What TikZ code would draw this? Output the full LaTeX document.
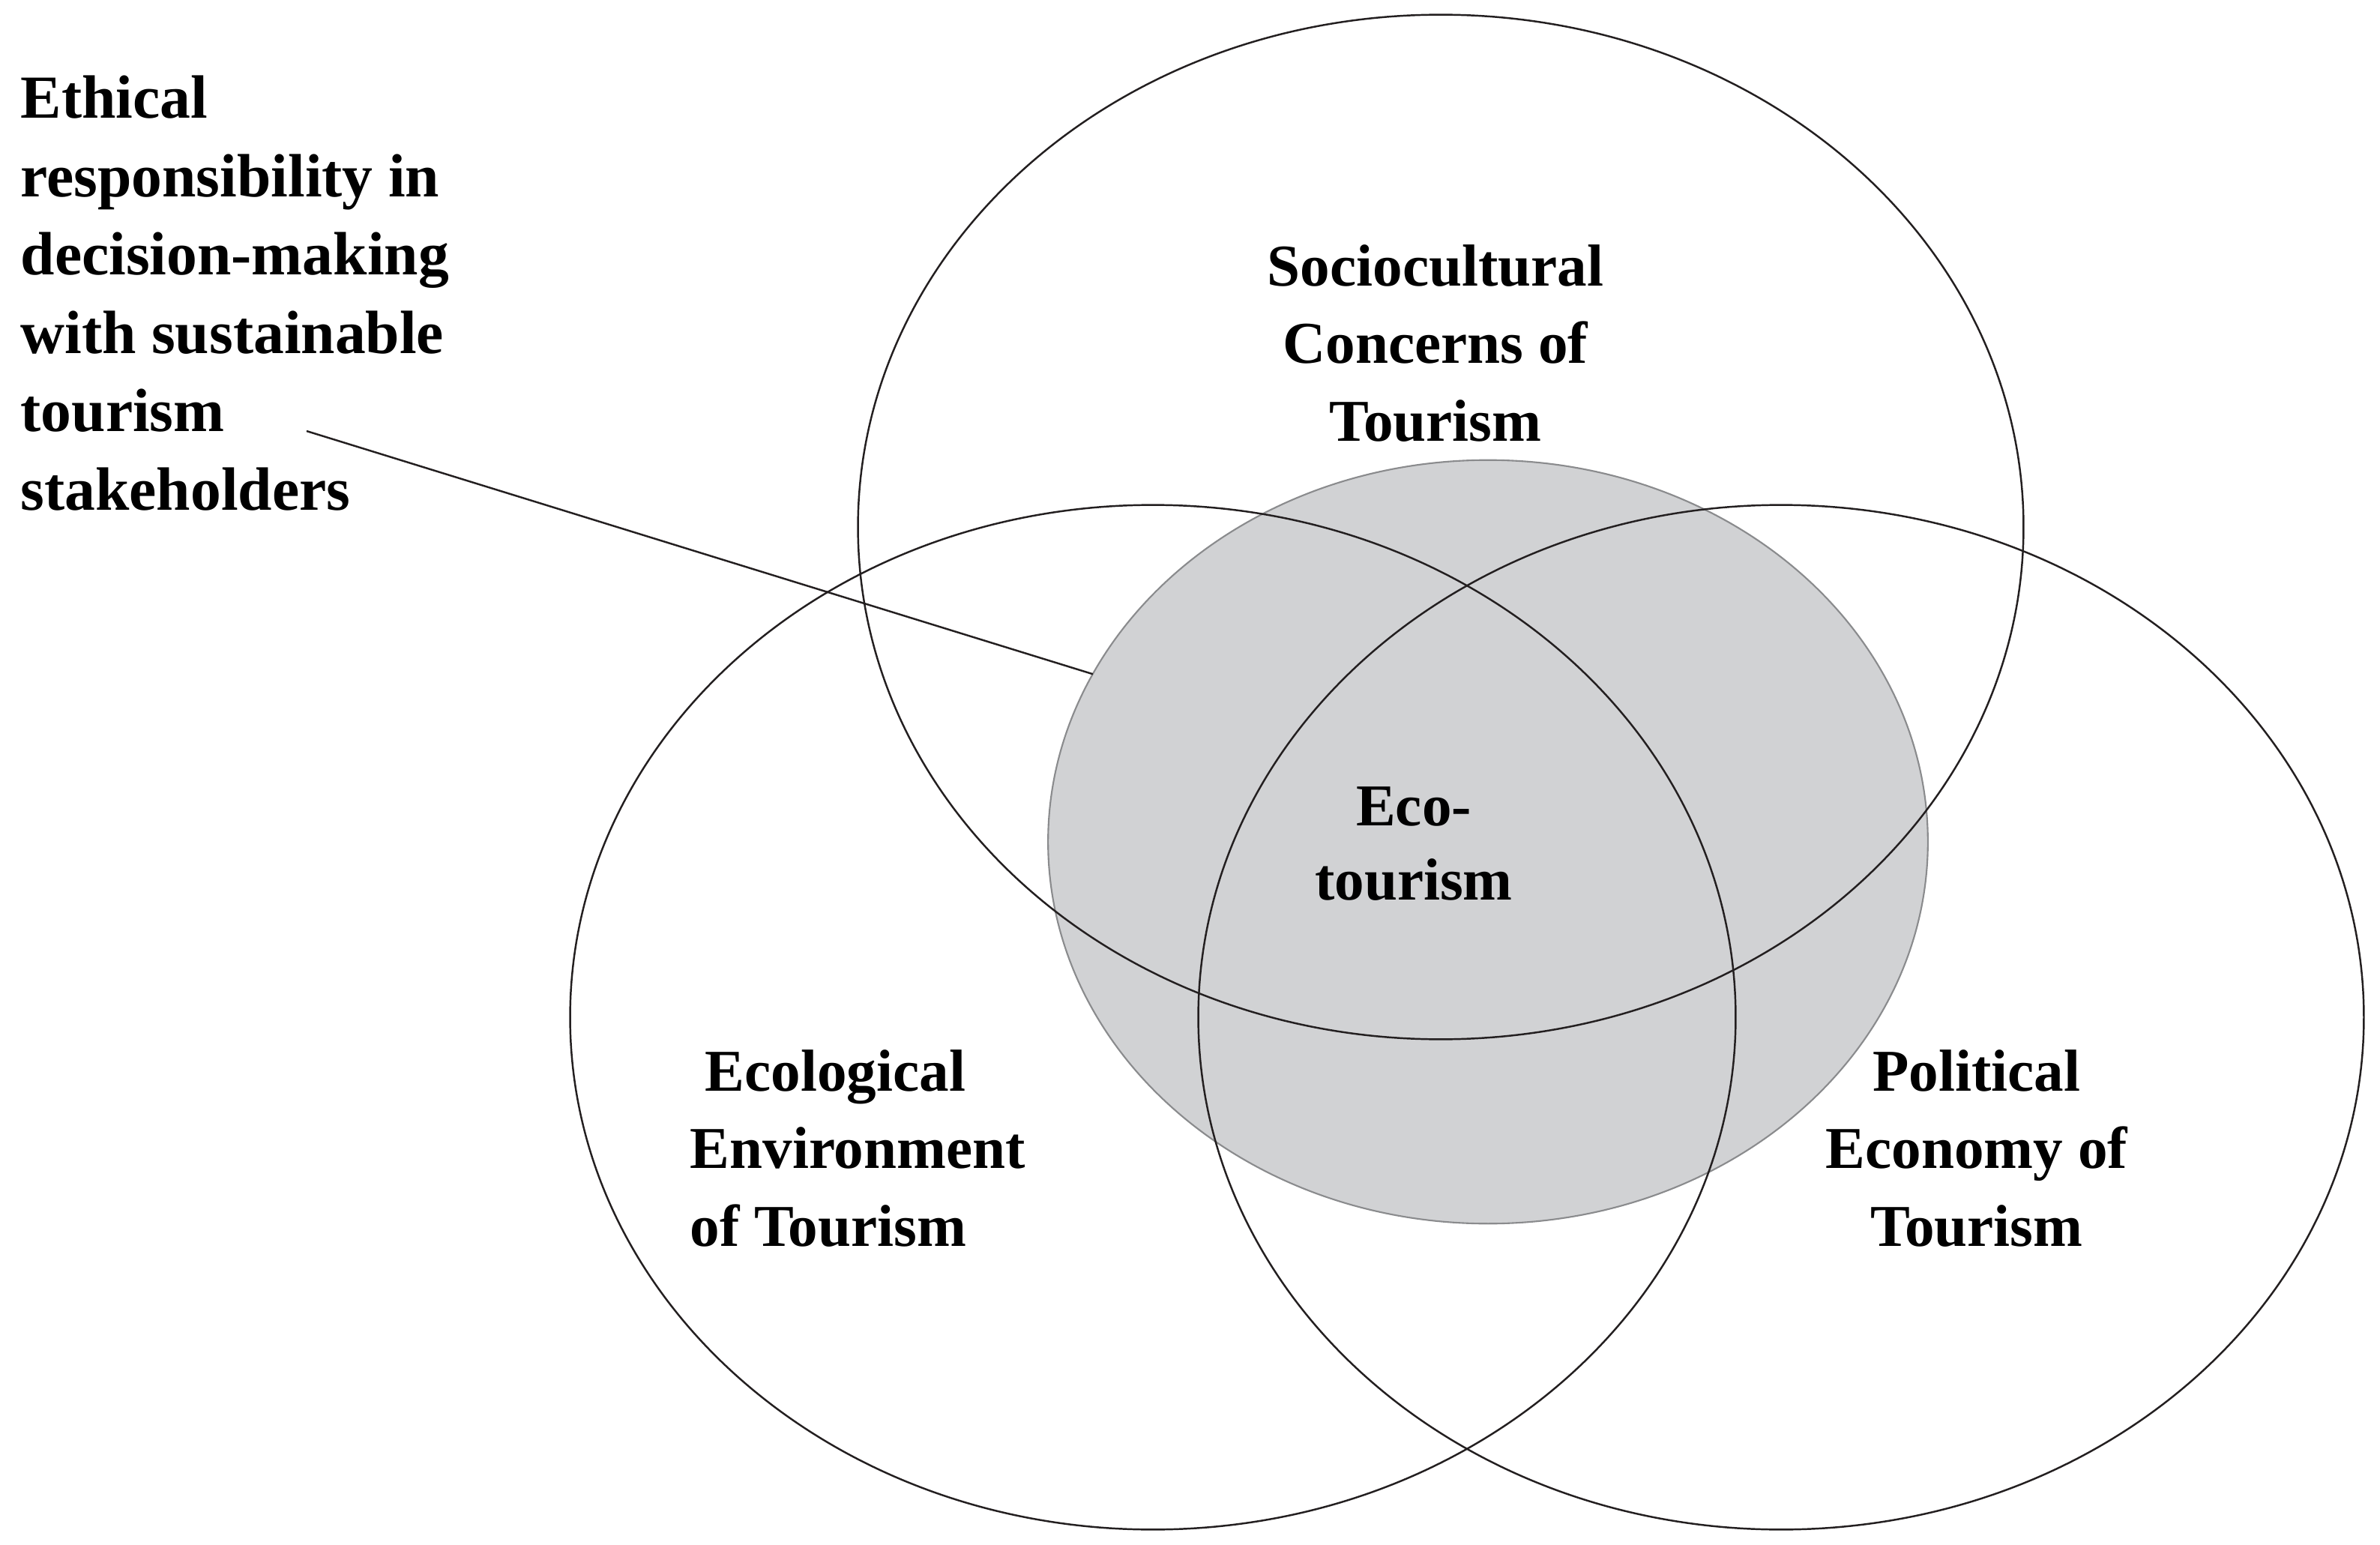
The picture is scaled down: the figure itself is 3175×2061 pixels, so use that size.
\documentclass[tikz,border=0pt]{standalone}
\usepackage{fontspec}
\setmainfont{Liberation Serif}
\usepackage{xcolor}
\usepackage{tikz}
\usetikzlibrary{shapes.geometric}

\definecolor{inkline}{HTML}{231F20}
\definecolor{ecofill}{HTML}{D1D2D4}
\definecolor{ecoedge}{HTML}{8A8B8D}

\begin{document}
\begin{tikzpicture}[x=0.01cm,y=-0.01cm,
  ring/.style={draw=inkline,line width=0.7pt,shape=ellipse,inner sep=0pt,outer sep=0pt,minimum width=15.54cm,minimum height=13.66cm},
  lbl/.style={inner sep=0pt,font=\bfseries\fontsize{22.5}{29.3}\selectfont}]
\useasboundingbox(0,0)rectangle(3175,2061);

\node[shape=ellipse,fill=ecofill,draw=ecoedge,line width=0.6pt,inner sep=0pt,outer sep=0pt,minimum width=11.73cm,minimum height=10.18cm](eco)at(1985,1123){};

\node[ring](socring)at(1922,703){};
\node[ring](ecoring)at(1538,1357){};
\node[ring](polring)at(2376,1357){};

% base = baseline of the last line
\node[lbl,align=left,anchor=base west,font=\bfseries\fontsize{23.2}{29.7}\selectfont](ethic)at(27,680){Ethical\\responsibility in\\decision-making\\with sustainable\\tourism\\stakeholders};
\node[lbl,align=center,anchor=base](socio)at(1915,588){Sociocultural\\Concerns of\\Tourism};
\node[lbl,align=center,anchor=base,font=\bfseries\fontsize{22.5}{27.9}\selectfont](ecot)at(1886,1200){Eco-\\tourism};
\node[lbl,align=left,anchor=base west](ecol)at(920,1662){\hspace*{0.2cm}Ecological\\Environment\\of Tourism};
\node[lbl,align=center,anchor=base](polit)at(2637,1662){Political\\Economy of\\Tourism};

\coordinate(lead)at(409,575);
\draw[inkline,line width=0.7pt](lead)--(eco.157);

\end{tikzpicture}
\end{document}
